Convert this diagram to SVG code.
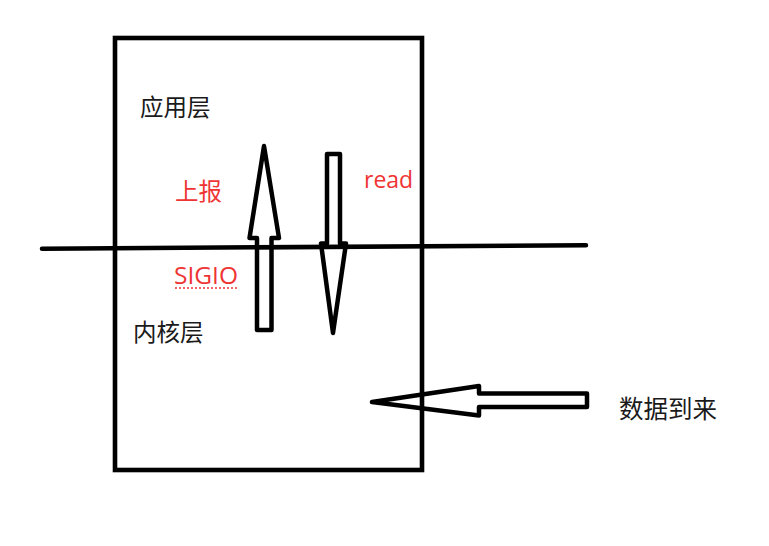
<svg xmlns="http://www.w3.org/2000/svg" width="769" height="546" viewBox="0 0 769 546">
<style>
.edge{fill:none;stroke:#000;stroke-width:4.5;stroke-linejoin:round;stroke-linecap:round}
.lbl{font-family:"Noto Sans CJK SC","Noto Sans",sans-serif;font-size:23.5px;fill:#1a1a1a}
.red{font-family:"Open Sans","Noto Sans CJK SC",sans-serif;font-size:23px;fill:#ef3434}
</style>
<rect width="769" height="546" fill="#fff"/>
<g id="box">
<rect x="115" y="38" width="307" height="432" fill="none" stroke="#000" stroke-width="4.6"/>
</g>
<g id="divider">
<line x1="42" y1="248.7" x2="586" y2="245.3" class="edge"/>
</g>
<g id="app-layer"><text x="140" y="116" class="lbl">应用层</text></g>
<g id="kernel-layer"><text x="133" y="341" class="lbl">内核层</text></g>
<g id="report-label"><text x="175" y="200" class="red" style="font-family:'Noto Sans CJK SC',sans-serif;font-size:23.5px">上报</text></g>
<g id="read-label"><text x="364" y="188" class="red" font-size="23.5">read</text></g>
<g id="sigio-label"><text x="174" y="284" class="red" style="font-size:24.5px">SIGIO</text>
<line x1="175" y1="288" x2="239" y2="288" stroke="#ef3434" stroke-width="1.5" stroke-dasharray="2,2"/></g>
<g id="data-label"><text x="619" y="418" class="lbl" style="font-size:24.5px">数据到来</text></g>
<g id="connectors">
<polygon class="edge" points="264,146 279,238 271.5,238 271.5,330 257,330 257,238 249.5,238"/>
<polygon class="edge" points="327,154 340,154 340,243.5 346,243.5 333,333 321,243.5 327,243.5"/>
<polygon class="edge" points="372,402 479,386 479,393.5 587,393.5 587,407 479,407 479,415.5"/>
</g>
</svg>
